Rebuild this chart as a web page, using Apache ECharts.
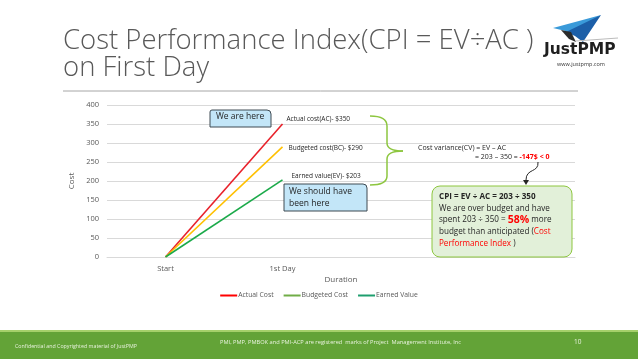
<!DOCTYPE html>
<html><head><meta charset="utf-8">
<script src="https://cdn.jsdelivr.net/npm/echarts@6/dist/echarts.min.js"></script>
<style>html,body{margin:0;padding:0;background:#fff}#c{width:638px;height:359px}</style>
</head><body><div id="c"></div>
<script>
var categories = ['Start', '1st Day', '', ''];
var seriesNames = ['Actual Cost', 'Budgeted Cost', 'Earned Value'];
var pointLabels = ['Actual cost(AC)', 'Budgeted cost(BC)', 'Earned value(EV)'];
var actualCost = [0, 350];
var budgetedCost = [0, 290];
var earnedValue = [0, 203];
var yTicks = {min: 0, max: 400, interval: 50};

var lineColors = ['#E8212A', '#FFC000', '#1BAA4A'];
var legendColors = ['#FF0000', '#70AD47', '#1E9E6E'];
var labelOffsets = [[0, -5], [2, 1], [5, -4]];
var FONT = 'Open Sans';

var chart = echarts.init(document.getElementById('c'));
var values = [actualCost, budgetedCost, earnedValue];
function mkSeries(i) {
  return {
    name: seriesNames[i], type: 'line', data: values[i], symbol: 'none',
    lineStyle: {color: lineColors[i], width: 1.6}, itemStyle: {color: lineColors[i]},
    endLabel: {show: true, distance: 4, offset: labelOffsets[i],
      fontFamily: FONT, fontSize: 6.5, color: '#262626',
      formatter: function (p) { return pointLabels[i] + '- $' + p.value; }},
    silent: true, animation: false
  };
}
function bez(x1, y1, cx, cy, x2, y2, color, w) {
  return {type: 'bezierCurve', z: 100, shape: {x1: x1, y1: y1, cpx1: cx, cpy1: cy, x2: x2, y2: y2}, style: {fill: 'none', stroke: color, lineWidth: w}};
}
var G = '#8DC63F';
var option = {
  animation: false,
  grid: {left: 107, right: 63, top: 105, bottom: 102},
  xAxis: {type: 'category', data: categories, boundaryGap: true,
    axisLine: {show: true, lineStyle: {color: '#D9D9D9'}}, axisTick: {show: false},
    axisLabel: {color: '#595959', fontFamily: FONT, fontSize: 7.5, margin: 8},
    name: 'Duration', nameLocation: 'middle', nameGap: 19,
    nameTextStyle: {color: '#595959', fontFamily: FONT, fontSize: 8}},
  yAxis: {type: 'value', min: yTicks.min, max: yTicks.max, interval: yTicks.interval,
    axisLine: {show: false}, axisTick: {show: false},
    splitLine: {lineStyle: {color: '#D9D9D9', width: 1}},
    axisLabel: {color: '#595959', fontFamily: FONT, fontSize: 7.5, margin: 8},
    name: 'Cost', nameLocation: 'middle', nameGap: 28, nameRotate: 90,
    nameTextStyle: {color: '#595959', fontFamily: FONT, fontSize: 8}},
  legend: {bottom: 55, left: 'center', icon: 'rect', itemWidth: 17, itemHeight: 2, itemGap: 10,
    textStyle: {color: '#595959', fontFamily: FONT, fontSize: 6.8, padding: [0, 0, 0, -4]},
    data: seriesNames.map(function (n, i) { return {name: n, itemStyle: {color: legendColors[i], opacity: 1}}; })},
  series: [mkSeries(0), mkSeries(1), mkSeries(2)],
  graphic: [
    // title
    {type: 'text', x: 63, y: 27, style: {text: 'Cost Performance Index(CPI = EV\u00F7AC )', fontFamily: FONT, fontWeight: 300, fontSize: 27.5, fill: '#595959'}},
    {type: 'text', x: 63, y: 54, style: {text: 'on First Day', fontFamily: FONT, fontWeight: 300, fontSize: 27.5, fill: '#595959'}},
    {type: 'line', shape: {x1: 63, y1: 91, x2: 578, y2: 91}, style: {stroke: '#A6A6A6', lineWidth: 1}},
    // logo
    {type: 'polygon', shape: {points: [[553, 28], [601, 15], [574, 33]]}, style: {fill: '#3A9AD9'}},
    {type: 'polygon', shape: {points: [[566, 32], [601, 15], [583, 42], [575, 36]]}, style: {fill: '#1C5FA8'}},
    {type: 'polygon', shape: {points: [[561, 30], [571, 32], [576, 42], [569, 39]]}, style: {fill: '#2B2B2B'}},
    {type: 'line', shape: {x1: 576, y1: 41, x2: 618, y2: 38}, style: {stroke: '#BBBBBB', lineWidth: 1}},
    {type: 'text', x: 544, y: 42, style: {text: 'JustPMP', fontFamily: 'DejaVu Sans', fontWeight: 'bold', fontSize: 15.5, fill: '#1F1F1F'}},
    {type: 'text', x: 557, y: 61, style: {text: 'www.justpmp.com', fontFamily: FONT, fontSize: 5.5, fill: '#333'}},
    // "We are here"
    {type: 'rect', z: 100, shape: {x: 210, y: 110, width: 61, height: 17, r: [2, 4, 0, 0]}, style: {fill: '#C3E6F8', stroke: '#3E4A52', lineWidth: 1}},
    {type: 'text', z: 101, x: 216, y: 112, style: {text: 'We are here', fontFamily: FONT, fontSize: 8.5, fill: '#1F1F1F'}},
    // "We should have been here"
    {type: 'rect', z: 100, shape: {x: 284, y: 184, width: 83, height: 27, r: [0, 4, 0, 0]}, style: {fill: '#C3E6F8', stroke: '#3E4A52', lineWidth: 1}},
    {type: 'text', z: 101, x: 289, y: 186, style: {text: 'We should have\nbeen here', lineHeight: 11.5, fontFamily: FONT, fontSize: 8.5, fill: '#1F1F1F'}},
    // brace
    bez(370, 116, 387, 116, 387, 126, G, 1.5),
    {type: 'line', z: 100, shape: {x1: 387, y1: 126, x2: 387, y2: 143}, style: {stroke: G, lineWidth: 1.5}},
    bez(387, 143, 387, 151, 403, 151, G, 1.5),
    bez(403, 151, 387, 151, 387, 159, G, 1.5),
    {type: 'line', z: 100, shape: {x1: 387, y1: 159, x2: 387, y2: 176}, style: {stroke: G, lineWidth: 1.5}},
    bez(387, 176, 387, 185, 370, 185, G, 1.5),
    // cost variance
    {type: 'text', z: 101, x: 418, y: 144, style: {text: 'Cost variance(CV) = EV \u2013 AC', fontFamily: FONT, fontSize: 7, fill: '#262626'}},
    {type: 'text', z: 101, x: 475, y: 153, style: {rich: {a: {fontFamily: FONT, fontSize: 7, fill: '#262626'}, b: {fontFamily: FONT, fontSize: 7, fontWeight: 'bold', fill: '#FF0000'}}, text: '{a|= 203 \u2013 350 = }{b|-147$ < 0}'}},
    {type: 'bezierCurve', z: 100, shape: {x1: 538, y1: 162, cpx1: 539, cpy1: 173, cpx2: 526, cpy2: 168, x2: 526, y2: 180}, style: {fill: 'none', stroke: '#262626', lineWidth: 1}},
    {type: 'polygon', z: 100, shape: {points: [[523, 180], [529, 180], [526, 185]]}, style: {fill: '#262626'}},
    // green box
    {type: 'rect', z: 100, shape: {x: 432, y: 186, width: 140, height: 71, r: 8}, style: {fill: '#E2F0D9', stroke: G, lineWidth: 1}},
    {type: 'text', z: 101, x: 439, y: 191, style: {
      rich: {
        b: {fontFamily: FONT, fontSize: 8.1, fontWeight: 'bold', fill: '#262626', lineHeight: 11.6},
        n: {fontFamily: FONT, fontSize: 8.1, fill: '#262626', lineHeight: 11.6},
        r: {fontFamily: FONT, fontSize: 10.5, fontWeight: 'bold', fill: '#FF0000', lineHeight: 11.6},
        s: {fontFamily: FONT, fontSize: 8.1, fill: '#FF0000', lineHeight: 11.6}
      },
      text: '{b|CPI = EV \u00F7 AC = 203 \u00F7 350}\n{n|We are over budget and have}\n{n|spent 203 \u00F7 350 = }{r|58%}{n| more}\n{n|budget than anticipated (}{s|Cost}\n{s|Performance Index}{n| )}'}},
    // footer
    {type: 'rect', z: 100, shape: {x: 0, y: 330, width: 638, height: 29}, style: {fill: '#63A337'}},
    {type: 'rect', z: 100, shape: {x: 0, y: 330, width: 638, height: 2}, style: {fill: '#A5D06A'}},
    {type: 'text', z: 101, x: 15, y: 344, style: {text: 'Confidential and Copyrighted material of JustPMP', fontFamily: FONT, fontSize: 5.3, fill: '#E8F2DD'}},
    {type: 'text', z: 101, x: 220, y: 339, style: {text: 'PMI, PMP, PMBOK and PMI-ACP are registered  marks of Project  Management Institute, Inc', fontFamily: FONT, fontSize: 5.7, fill: '#E8F2DD'}},
    {type: 'text', z: 101, x: 574, y: 339, style: {text: '10', fontFamily: FONT, fontSize: 6.5, fill: '#E8F2DD'}}
  ]
};
chart.setOption(option);
</script></body></html>
